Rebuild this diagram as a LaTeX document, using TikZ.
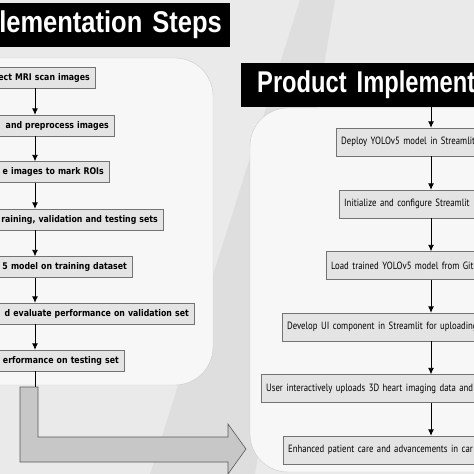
\documentclass[tikz,border=0pt]{standalone}
\usepackage{fontspec}
\usetikzlibrary{arrows.meta}
\newfontfamily\titlefont[FakeStretch=0.85]{Liberation Sans Bold}
\newfontfamily\ptitlefont[FakeStretch=0.79]{Liberation Sans Bold}
\newfontfamily\leftfont[FakeStretch=0.85]{DejaVu Sans Bold}
\newfontfamily\rightfont[FakeStretch=0.83]{PT Sans}
\definecolor{bggray}{HTML}{EAEAEA}
\definecolor{bandgray}{HTML}{DEDEDE}
\definecolor{panelwhite}{HTML}{F7F7F7}
\definecolor{boxgray}{HTML}{E4E4E4}
\begin{document}
\begin{tikzpicture}[x=1pt, y=-1pt,
		ttl/.style={fill=black, text=white, font=\titlefont\fontsize{30}{30}\selectfont, minimum height=44pt, inner ysep=0pt},
		lstep/.style={draw=black!55, fill=boxgray, font=\leftfont\fontsize{9.2}{11}\selectfont, minimum height=21pt, text width=230pt, align=right, anchor=east, inner xsep=5pt},
		rstep/.style={draw=black!55, fill=boxgray, font=\rightfont\fontsize{10.5}{12}\selectfont, minimum height=28pt, text width=250pt, align=left, anchor=west, inner xsep=5pt},
		panel/.style={fill=panelwhite, draw=black!20, rounded corners=38pt},
		bigarrow/.style={fill=black!22, draw=black!65, line width=0.6pt},
		link/.style={-{Latex[length=6.5pt, width=6pt]}, line width=0.9pt}]
			\useasboundingbox (0,0) rectangle (474,474);
			\clip (0,0) rectangle (474,474);

			% background and panels
			\fill [bggray] (0,0) rectangle (474,474);
			\fill [bandgray] (300,0) -- (335,0) -- (255,474) -- (150,474) -- cycle;
			\draw [panel] (-40,58) rectangle (213,385);
			\draw [panel] (250,108) rectangle (520,472);

			\coordinate (colL) at (35,0);
			\coordinate (colR) at (431,0);

			\node [ttl, anchor=east, text width=240pt, align=right, inner xsep=8pt] (mtitle) at (230,25) {lementation Steps};
			\node [ttl, font=\ptitlefont\fontsize{30}{30}\selectfont, anchor=west, text width=260pt, align=left, inner xsep=16pt] (ptitle) at (241,85) {Product Implement};

			\node [lstep] (collect) at (95,77.5)  {ect MRI scan images};
			\node [lstep] (preproc) at (114,125.5) {and preprocess images};
			\node [lstep] (annot)   at (109,172)  {e images to mark ROIs};
			\node [lstep] (split)   at (163,219.5) {raining, validation and testing sets};
			\node [lstep] (train)   at (132,267)  {5 model on training dataset};
			\node [lstep] (valid)   at (194,313.5) {d evaluate performance on validation set};
			\node [lstep] (test)    at (124,360.5) {erformance on testing set};

			\node [rstep] (deploy) at (336,142)   {Deploy YOLOv5 model in Streamlit};
			\node [rstep] (init)   at (339,204)   {Initialize and configure Streamlit};
			\node [rstep] (load)   at (326,265.5) {Load trained YOLOv5 model from Git};
			\node [rstep] (ui)     at (282,327)   {Develop UI component in Streamlit for uploading};
			\node [rstep] (upload) at (261,388.5) {User interactively uploads 3D heart imaging data and};
			\node [rstep] (care)   at (283,450)   {Enhanced patient care and advancements in car};

			\foreach \a/\b in {collect/preproc, preproc/annot, annot/split, split/train, train/valid, valid/test}
				\draw [link] (\a.south -| colL) -- (\b.north -| colL);
			\foreach \a/\b in {ptitle/deploy, deploy/init, init/load, load/ui, ui/upload, upload/care}
				\draw [link] (\a.south -| colR) -- (\b.north -| colR);

			% big arrow to the product panel
			\draw [bigarrow] (20,387) -- (38,387) -- (38,437) -- (228,437) -- (228,424) -- (246,449)
				-- (228,474) -- (228,462) -- (20,462) -- cycle;
			\coordinate (atop) at (35,387);
			\draw [line width=0.9pt] (test.south -| colL) -- (atop);
		\end{tikzpicture}
\end{document}
